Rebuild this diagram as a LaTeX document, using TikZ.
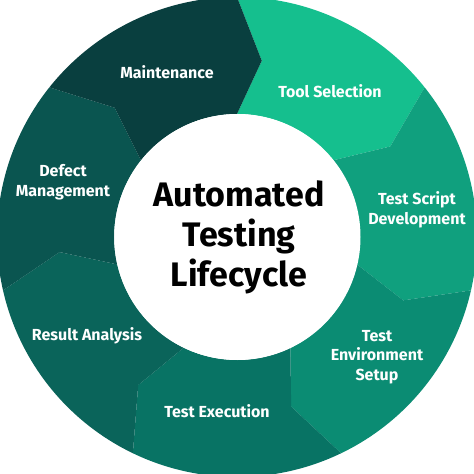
\documentclass[tikz,border=0pt]{standalone}
\usepackage{fontspec}
\setmainfont{Fira Sans}
\definecolor{cTool}{HTML}{15BF8E}
\definecolor{cScript}{HTML}{10A07E}
\definecolor{cEnv}{HTML}{0B8C73}
\definecolor{cExec}{HTML}{087364}
\definecolor{cResult}{HTML}{0A645A}
\definecolor{cDefect}{HTML}{0A5550}
\definecolor{cMaint}{HTML}{093F3F}
\tikzset{
  lbl/.style={text=white, align=center, font=\fontsize{16}{19.5}\selectfont\bfseries},
  ctr/.style={text=black, align=center, font=\fontsize{34}{40}\selectfont\bfseries},
}
\newcommand{\segm}[2]{% #1 = index, #2 = colour
  \pgfmathsetmacro{\ta}{90-#1*360/7}
  \pgfmathsetmacro{\tb}{90-(#1+1)*360/7}
  \pgfmathsetmacro{\tat}{\ta-8}
  \pgfmathsetmacro{\tbt}{\tb-8}
  \fill[#2] (\ta:240) arc[start angle=\ta, end angle=\tb, radius=240]
    -- (\tbt:178) -- (\tb:123)
    arc[start angle=\tb, end angle=\ta, radius=123]
    -- (\tat:178) -- cycle;
}
\begin{document}
\begin{tikzpicture}[x=1pt,y=1pt]
\useasboundingbox (-237,-237) rectangle (237,237);
\fill[white] (-237,-237) rectangle (237,237);
\begin{scope}
\clip (-237,-237) rectangle (237,237);
\segm{0}{cTool}
\segm{1}{cScript}
\segm{2}{cEnv}
\segm{3}{cExec}
\segm{4}{cResult}
\segm{5}{cDefect}
\segm{6}{cMaint}
\end{scope}
\node[circle, fill=white, minimum size=246pt, inner sep=0pt] (hub) at (0.5,0) {};
\node[ctr] (title) at (2,0) {Automated\\Testing\\Lifecycle};
\node[lbl] (tool) at (93,146) {Tool Selection};
\node[lbl] (script) at (180,27) {Test Script\\Development};
\node[lbl] (env) at (140,-120) {Test\\Environment\\Setup};
\node[lbl] (exec) at (-20,-174) {Test Execution};
\node[lbl] (result) at (-150,-99) {Result Analysis};
\node[lbl] (defect) at (-174,55) {Defect\\Management};
\node[lbl] (maint) at (-70,165) {Maintenance};
\end{tikzpicture}
\end{document}
